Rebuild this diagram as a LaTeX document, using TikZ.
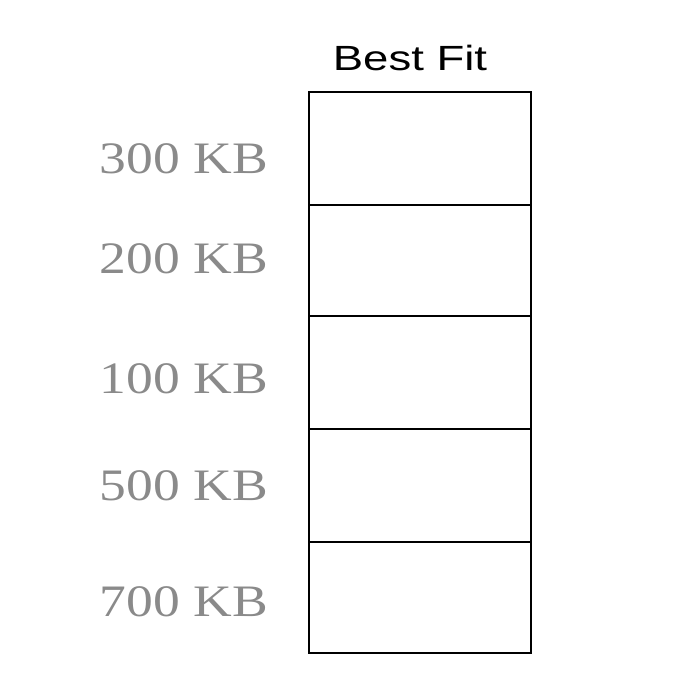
\documentclass[tikz,border=0pt]{standalone}
\usepackage{fontspec}
\setmainfont{Liberation Serif}
\newfontfamily\arialfont{Liberation Sans}
\definecolor{labgray}{HTML}{8A8A8A}
\begin{document}
\begin{tikzpicture}[x=1pt,y=-1pt,
  cell/.style={draw=black,line width=1.6pt},
  lab/.style={anchor=base east,inner sep=0pt,text=labgray,font=\fontsize{45}{45}\selectfont,xscale=1.19},
  ttl/.style={anchor=base,inner sep=0pt,font=\arialfont\fontsize{35}{35}\selectfont,xscale=1.3}]
\useasboundingbox (0,0) rectangle (700,681);
\node[cell,minimum width=222pt,minimum height=113pt,inner sep=0pt,anchor=north west] (c1) at (308,91) {};
\node[cell,minimum width=222pt,minimum height=111pt,inner sep=0pt,anchor=north west] (c2) at (308,204) {};
\node[cell,minimum width=222pt,minimum height=113pt,inner sep=0pt,anchor=north west] (c3) at (308,315) {};
\node[cell,minimum width=222pt,minimum height=113pt,inner sep=0pt,anchor=north west] (c4) at (308,428) {};
\node[cell,minimum width=222pt,minimum height=111pt,inner sep=0pt,anchor=north west] (c5) at (308,541) {};
\node[ttl] (t) at (410,70) {Best Fit};
\node[lab] (l1) at (268,173) {300 KB};
\node[lab] (l2) at (268,273) {200 KB};
\node[lab] (l3) at (268,393) {100 KB};
\node[lab] (l4) at (268,500) {500 KB};
\node[lab] (l5) at (268,616) {700 KB};
\end{tikzpicture}
\end{document}
